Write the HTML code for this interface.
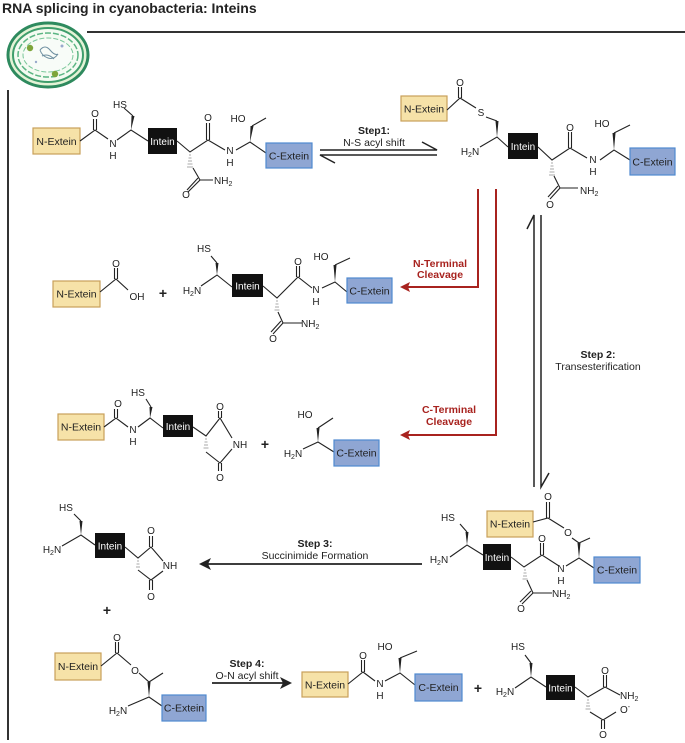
<!DOCTYPE html>
<html><head><meta charset="utf-8"><style>
html,body{margin:0;padding:0;background:#fff;}
svg{display:block;}
text{font-family:"Liberation Sans",sans-serif;fill:#222;}
.a{font-size:10px;}
.b{font-size:10.5px;}
.w{fill:#fff;font-size:10px;}
.l{stroke:#222;stroke-width:1.1;fill:none;}
.r{stroke:#a8231f;stroke-width:2;fill:none;}
.k{stroke:#222;stroke-width:1.8;fill:none;}
.h{stroke:#aaa;stroke-width:1;}
.ne{fill:#f6e2a8;stroke:#c9a05a;stroke-width:1.2;}
.ce{fill:#8fa6d3;stroke:#4f8ad0;stroke-width:1.2;}
.in{fill:#111;}
</style></head><body>
<svg width="685" height="743" viewBox="0 0 685 743" xmlns="http://www.w3.org/2000/svg">
<text x="2" y="13" style="font-size:14px;font-weight:bold">RNA splicing in cyanobacteria: Inteins</text>
<!-- cell -->
<ellipse cx="48" cy="55" rx="40" ry="32" fill="#e4f3d6" stroke="#2e8a5e" stroke-width="3"/>
<ellipse cx="48" cy="55" rx="35" ry="27" fill="#f4fbf2" stroke="#3f9e6c" stroke-width="2"/>
<ellipse cx="48" cy="55" rx="30" ry="22" fill="none" stroke="#5bb583" stroke-width="1.5" stroke-dasharray="6 2"/>
<ellipse cx="48" cy="55" rx="25" ry="17" fill="#f8fcf8" stroke="#7ac79a" stroke-width="1" stroke-dasharray="5 2"/>
<path d="M40 50 q5 -6 10 0 t8 4 q-4 6 -10 4 t-8 -8 M42 56 q6 -3 12 3" stroke="#6e8fa0" stroke-width="1" fill="none"/>
<circle cx="30" cy="48" r="3.2" fill="#7da53b"/><circle cx="55" cy="74" r="3.2" fill="#7da53b"/>
<circle cx="62" cy="46" r="1.5" fill="#9ac"/><circle cx="36" cy="62" r="1.2" fill="#9ac"/>
<line x1="87" y1="32" x2="685" y2="32" stroke="#333" stroke-width="2"/>
<line x1="8" y1="90" x2="8" y2="740" stroke="#333" stroke-width="2"/>

<!-- ROW 1 left -->
<rect class="ne" x="33" y="128" width="47" height="26"/><text class="b" x="56.5" y="145" text-anchor="middle">N-Extein</text>
<path class="l" d="M80 141 L95 130 L108 139 M117 140 L131 130 L148 141 M133 116 L124 108 M177 141 L190 152 L208 140 L225 150 M236 150 L250 142 L266 153 M252 126 L266 118 M193 168 L200 180 L188 192 M200 180 L213 180"/>
<path class="l" d="M93.5 130 V119 M96.5 130 V119 M206.5 140 V123 M209.5 140 V123 M198 178 L187 190"/>
<polygon points="131,130 131.5,116 134.5,116" fill="#222"/>
<polygon points="250,142 250.5,126 253.5,126" fill="#222"/>
<path class="h" d="M189 155h2M188.5 158h3M188 161h4M187.5 164h5M187 167h6"/>
<text class="a" x="95" y="117" text-anchor="middle">O</text>
<text class="a" x="113" y="147" text-anchor="middle">N</text><text class="a" x="113" y="159" text-anchor="middle">H</text>
<text class="a" x="120" y="108" text-anchor="middle">HS</text>
<rect class="in" x="148" y="128" width="29" height="26"/><text class="w" x="162.5" y="145" text-anchor="middle">Intein</text>
<text class="a" x="208" y="121" text-anchor="middle">O</text>
<text class="a" x="230" y="154" text-anchor="middle">N</text><text class="a" x="230" y="166" text-anchor="middle">H</text>
<text class="a" x="238" y="122" text-anchor="middle">HO</text>
<text class="a" x="186" y="198" text-anchor="middle">O</text>
<text class="a" x="214" y="184">NH<tspan font-size="7" dy="2">2</tspan></text>
<rect class="ce" x="266" y="143" width="46" height="25"/><text class="b" x="289" y="159.5" text-anchor="middle">C-Extein</text>

<!-- Step1 -->
<text x="374" y="134" text-anchor="middle" style="font-size:10.5px;font-weight:bold">Step1:</text>
<text x="374" y="146" text-anchor="middle" style="font-size:10.5px">N-S acyl shift</text>
<path class="k" style="stroke-width:1.5" d="M320 150 H437 L422 142 M437 155 H320 L335 163"/>

<!-- ROW 1 right -->
<rect class="ne" x="401" y="96" width="46" height="25"/><text class="b" x="424" y="112.5" text-anchor="middle">N-Extein</text>
<path class="l" d="M447 110 L460 98 L476 108 M486 117 L497 121 M480 147 L497 137 L508 147 M538 147 L552 160 L570 148 L587 158 M600 160 L614 150 L630 160 M614 133 L630 125 M554 176 L560 188 L550 199 M560 188 L578 188"/>
<path class="l" d="M458.5 98 V87 M461.5 98 V87 M568.5 148 V132 M571.5 148 V132 M558 186 L548 197"/>
<polygon points="497,137 495.5,121 498.5,121" fill="#222"/>
<polygon points="614,150 612.5,133 615.5,133" fill="#222"/>
<path class="h" d="M551 163h2M550.5 166h3M550 169h4M549.5 172h5M549 175h6"/>
<text class="a" x="460" y="86" text-anchor="middle">O</text>
<text class="a" x="481" y="116" text-anchor="middle">S</text>
<text class="a" x="470" y="155" text-anchor="middle">H<tspan font-size="7" dy="2">2</tspan><tspan dy="-2">N</tspan></text>
<rect class="in" x="508" y="133" width="30" height="26"/><text class="w" x="523" y="150" text-anchor="middle">Intein</text>
<text class="a" x="570" y="131" text-anchor="middle">O</text>
<text class="a" x="593" y="163" text-anchor="middle">N</text><text class="a" x="593" y="175" text-anchor="middle">H</text>
<text class="a" x="602" y="127" text-anchor="middle">HO</text>
<text class="a" x="550" y="208" text-anchor="middle">O</text>
<text class="a" x="580" y="194">NH<tspan font-size="7" dy="2">2</tspan></text>
<rect class="ce" x="630" y="148" width="45" height="27"/><text class="b" x="652.5" y="165.5" text-anchor="middle">C-Extein</text>

<!-- red arrows -->
<path class="r" d="M478 189 V287 H406 M496 189 V435 H406"/>
<polygon points="400,287 410,282 408,287 410,292" fill="#a8231f"/>
<polygon points="400,435 410,430 408,435 410,440" fill="#a8231f"/>
<text x="440" y="267" text-anchor="middle" style="font-size:10.5px;font-weight:bold;fill:#a8231f">N-Terminal</text>
<text x="440" y="278" text-anchor="middle" style="font-size:10.5px;font-weight:bold;fill:#a8231f">Cleavage</text>
<text x="449" y="413" text-anchor="middle" style="font-size:10.5px;font-weight:bold;fill:#a8231f">C-Terminal</text>
<text x="449" y="425" text-anchor="middle" style="font-size:10.5px;font-weight:bold;fill:#a8231f">Cleavage</text>

<!-- step 2 -->
<path class="k" style="stroke-width:1.5" d="M534 487 V215 L527 229 M541 215 V487 L549 473"/>
<text x="598" y="358" text-anchor="middle" style="font-size:10.5px;font-weight:bold">Step 2:</text>
<text x="598" y="370" text-anchor="middle" style="font-size:10.5px">Transesterification</text>

<!-- ROW 2 -->
<rect class="ne" x="53" y="281" width="47" height="26"/><text class="b" x="76.5" y="297.5" text-anchor="middle">N-Extein</text>
<path class="l" d="M100 292 L116 279 L128 290 M114.5 279 V268 M117.5 279 V268"/>
<text class="a" x="116" y="267" text-anchor="middle">O</text>
<text class="a" x="137" y="300" text-anchor="middle">OH</text>
<text x="163" y="298" text-anchor="middle" style="font-size:14px;font-weight:bold">+</text>
<text class="a" x="192" y="294" text-anchor="middle">H<tspan font-size="7" dy="2">2</tspan><tspan dy="-2">N</tspan></text>
<path class="l" d="M201 286 L217 275 L232 287 M217 263 L211 256 M263 286 L277 298 L298 277 L312 288 M322 288 L335 282 L347 292 M335 265 L350 258 M278 312 L283 323 L273 334 M283 323 L302 323 M296.5 277 V266 M299.5 277 V266 M281 321 L271 332"/>
<polygon points="217,275 215.5,263 218.5,263" fill="#222"/>
<polygon points="335,282 333.5,265 336.5,265" fill="#222"/>
<path class="h" d="M276 301h2M275.5 304h3M275 307h4M274.5 310h5"/>
<text class="a" x="204" y="252" text-anchor="middle">HS</text>
<rect class="in" x="232" y="274" width="31" height="23"/><text class="w" x="247.5" y="289.5" text-anchor="middle">Intein</text>
<text class="a" x="298" y="265" text-anchor="middle">O</text>
<text class="a" x="316" y="293" text-anchor="middle">N</text><text class="a" x="316" y="305" text-anchor="middle">H</text>
<text class="a" x="321" y="260" text-anchor="middle">HO</text>
<text class="a" x="273" y="342" text-anchor="middle">O</text>
<text class="a" x="301" y="327">NH<tspan font-size="7" dy="2">2</tspan></text>
<rect class="ce" x="347" y="278" width="45" height="25"/><text class="b" x="369.5" y="294.5" text-anchor="middle">C-Extein</text>

<!-- ROW 3 -->
<rect class="ne" x="58" y="414" width="46" height="26"/><text class="b" x="81" y="430.5" text-anchor="middle">N-Extein</text>
<path class="l" d="M104 427 L116 418 L128 427 M138 427 L150 418 L163 428 M151 407 L146 399 M114.5 418 V409 M117.5 418 V409 M193 427 L206 436 L220 418 L232 438 M232 449 L220 463 L206 452 M218.5 418 V411 M221.5 418 V411 M218.5 463 V471 M221.5 463 V471"/>
<polygon points="150,418 149.5,407 152.5,407" fill="#222"/>
<path class="h" d="M205 439h2M204.5 442h3M204 445h4M203.5 448h5"/>
<text class="a" x="118" y="407" text-anchor="middle">O</text>
<text class="a" x="133" y="433" text-anchor="middle">N</text><text class="a" x="133" y="445" text-anchor="middle">H</text>
<text class="a" x="138" y="396" text-anchor="middle">HS</text>
<rect class="in" x="163" y="415" width="30" height="22"/><text class="w" x="178" y="430" text-anchor="middle">Intein</text>
<text class="a" x="220" y="410" text-anchor="middle">O</text>
<text class="a" x="240" y="448" text-anchor="middle">NH</text>
<text class="a" x="220" y="481" text-anchor="middle">O</text>
<text x="265" y="449" text-anchor="middle" style="font-size:14px;font-weight:bold">+</text>
<text class="a" x="305" y="418" text-anchor="middle">HO</text>
<text class="a" x="293" y="457" text-anchor="middle">H<tspan font-size="7" dy="2">2</tspan><tspan dy="-2">N</tspan></text>
<path class="l" d="M303 449 L318 442 L334 452 M318 428 L333 418"/>
<polygon points="318,442 316.5,428 319.5,428" fill="#222"/>
<rect class="ce" x="334" y="440" width="45" height="26"/><text class="b" x="356.5" y="456.5" text-anchor="middle">C-Extein</text>

<!-- Right lower structure -->
<rect class="ne" x="487" y="511" width="46" height="26"/><text class="b" x="510" y="527.5" text-anchor="middle">N-Extein</text>
<path class="l" d="M533 522 L548 518 L564 528 M546.5 518 V502 M549.5 518 V502 M572 538 L579 543 L590 538 M450 557 L467 545 L483 555 M467 532 L460 524 M511 557 L524 567 L542 555 L559 566 M566 566 L579 558 L594 568 M527 580 L533 593 L522 604 M533 593 L552 593 M540.5 555 V543 M543.5 555 V543 M531 591 L520 602"/>
<polygon points="467,545 465.5,532 468.5,532" fill="#222"/>
<polygon points="579,558 577.5,543 580.5,543" fill="#222"/>
<path class="h" d="M524 570h2M523.5 573h3M523 576h4M522.5 579h5"/>
<text class="a" x="548" y="500" text-anchor="middle">O</text>
<text class="a" x="568" y="536" text-anchor="middle">O</text>
<text class="a" x="448" y="521" text-anchor="middle">HS</text>
<text class="a" x="439" y="563" text-anchor="middle">H<tspan font-size="7" dy="2">2</tspan><tspan dy="-2">N</tspan></text>
<rect class="in" x="483" y="544" width="28" height="26"/><text class="w" x="497" y="561" text-anchor="middle">Intein</text>
<text class="a" x="542" y="542" text-anchor="middle">O</text>
<text class="a" x="561" y="572" text-anchor="middle">N</text><text class="a" x="561" y="584" text-anchor="middle">H</text>
<text class="a" x="521" y="612" text-anchor="middle">O</text>
<text class="a" x="552" y="597">NH<tspan font-size="7" dy="2">2</tspan></text>
<rect class="ce" x="594" y="557" width="46" height="26"/><text class="b" x="617" y="573.5" text-anchor="middle">C-Extein</text>

<!-- Step 3 -->
<path class="k" d="M422 564 H208"/><polygon points="199,564 211,558 208,564 211,570" fill="#222"/>
<text x="315" y="547" text-anchor="middle" style="font-size:10.5px;font-weight:bold">Step 3:</text>
<text x="315" y="559" text-anchor="middle" style="font-size:10.5px">Succinimide Formation</text>

<!-- left succinimide -->
<text class="a" x="66" y="511" text-anchor="middle">HS</text>
<text class="a" x="52" y="553" text-anchor="middle">H<tspan font-size="7" dy="2">2</tspan><tspan dy="-2">N</tspan></text>
<path class="l" d="M62 546 L81 535 L95 545 M81 521 L74 514 M125 547 L138 558 L151 547 L163 561 M163 571 L151 580 L138 570 M149.5 547 V536 M152.5 547 V536 M149.5 580 V590 M152.5 580 V590"/>
<polygon points="81,535 79.5,521 82.5,521" fill="#222"/>
<path class="h" d="M137 561h2M136.5 564h3M136 567h4"/>
<rect class="in" x="95" y="533" width="30" height="25"/><text class="w" x="110" y="549.5" text-anchor="middle">Intein</text>
<text class="a" x="151" y="534" text-anchor="middle">O</text>
<text class="a" x="170" y="569" text-anchor="middle">NH</text>
<text class="a" x="151" y="600" text-anchor="middle">O</text>
<text x="107" y="615" text-anchor="middle" style="font-size:14px;font-weight:bold">+</text>

<!-- bottom left -->
<rect class="ne" x="55" y="653" width="46" height="27"/><text class="b" x="78" y="670" text-anchor="middle">N-Extein</text>
<path class="l" d="M101 666 L117 653 L131 665 M115.5 653 V642 M118.5 653 V642 M139 673 L149 682 L163 673 M128 706 L149 697 L162 706"/>
<polygon points="149,697 147.5,682 150.5,682" fill="#222"/>
<text class="a" x="117" y="641" text-anchor="middle">O</text>
<text class="a" x="135" y="674" text-anchor="middle">O</text>
<text class="a" x="118" y="714" text-anchor="middle">H<tspan font-size="7" dy="2">2</tspan><tspan dy="-2">N</tspan></text>
<rect class="ce" x="162" y="695" width="44" height="26"/><text class="b" x="184" y="711.5" text-anchor="middle">C-Extein</text>

<!-- Step 4 -->
<path class="k" d="M212 683 H283"/><polygon points="292,683 280,677 283,683 280,689" fill="#222"/>
<text x="247" y="667" text-anchor="middle" style="font-size:10.5px;font-weight:bold">Step 4:</text>
<text x="247" y="679" text-anchor="middle" style="font-size:10.5px">O-N acyl shift</text>

<rect class="ne" x="302" y="672" width="46" height="25"/><text class="b" x="325" y="688.5" text-anchor="middle">N-Extein</text>
<path class="l" d="M348 684 L363 672 L375 681 M361.5 672 V660 M364.5 672 V660 M385 681 L400 673 L415 685 M400 658 L417 651"/>
<polygon points="400,673 398.5,658 401.5,658" fill="#222"/>
<text class="a" x="363" y="659" text-anchor="middle">O</text>
<text class="a" x="380" y="687" text-anchor="middle">N</text><text class="a" x="380" y="699" text-anchor="middle">H</text>
<text class="a" x="385" y="650" text-anchor="middle">HO</text>
<rect class="ce" x="415" y="674" width="47" height="27"/><text class="b" x="438.5" y="691" text-anchor="middle">C-Extein</text>
<text x="478" y="693" text-anchor="middle" style="font-size:14px;font-weight:bold">+</text>

<text class="a" x="518" y="650" text-anchor="middle">HS</text>
<text class="a" x="505" y="695" text-anchor="middle">H<tspan font-size="7" dy="2">2</tspan><tspan dy="-2">N</tspan></text>
<path class="l" d="M515 688 L531 677 L546 687 M531 663 L525 655 M575 687 L588 697 L605 687 L620 695 M603.5 687 V675 M606.5 687 V675 M590 712 L603 720 L616 712 M601.5 720 V729 M604.5 720 V729"/>
<polygon points="531,677 529.5,663 532.5,663" fill="#222"/>
<path class="h" d="M587 700h2M586.5 703h3M586 706h4M585.5 709h5"/>
<rect class="in" x="546" y="675" width="29" height="25"/><text class="w" x="560.5" y="691.5" text-anchor="middle">Intein</text>
<text class="a" x="605" y="674" text-anchor="middle">O</text>
<text class="a" x="620" y="699">NH<tspan font-size="7" dy="2">2</tspan></text>
<text class="a" x="620" y="713">O<tspan font-size="7" dy="-4">-</tspan></text>
<text class="a" x="603" y="738" text-anchor="middle">O</text>
</svg>
</body></html>
